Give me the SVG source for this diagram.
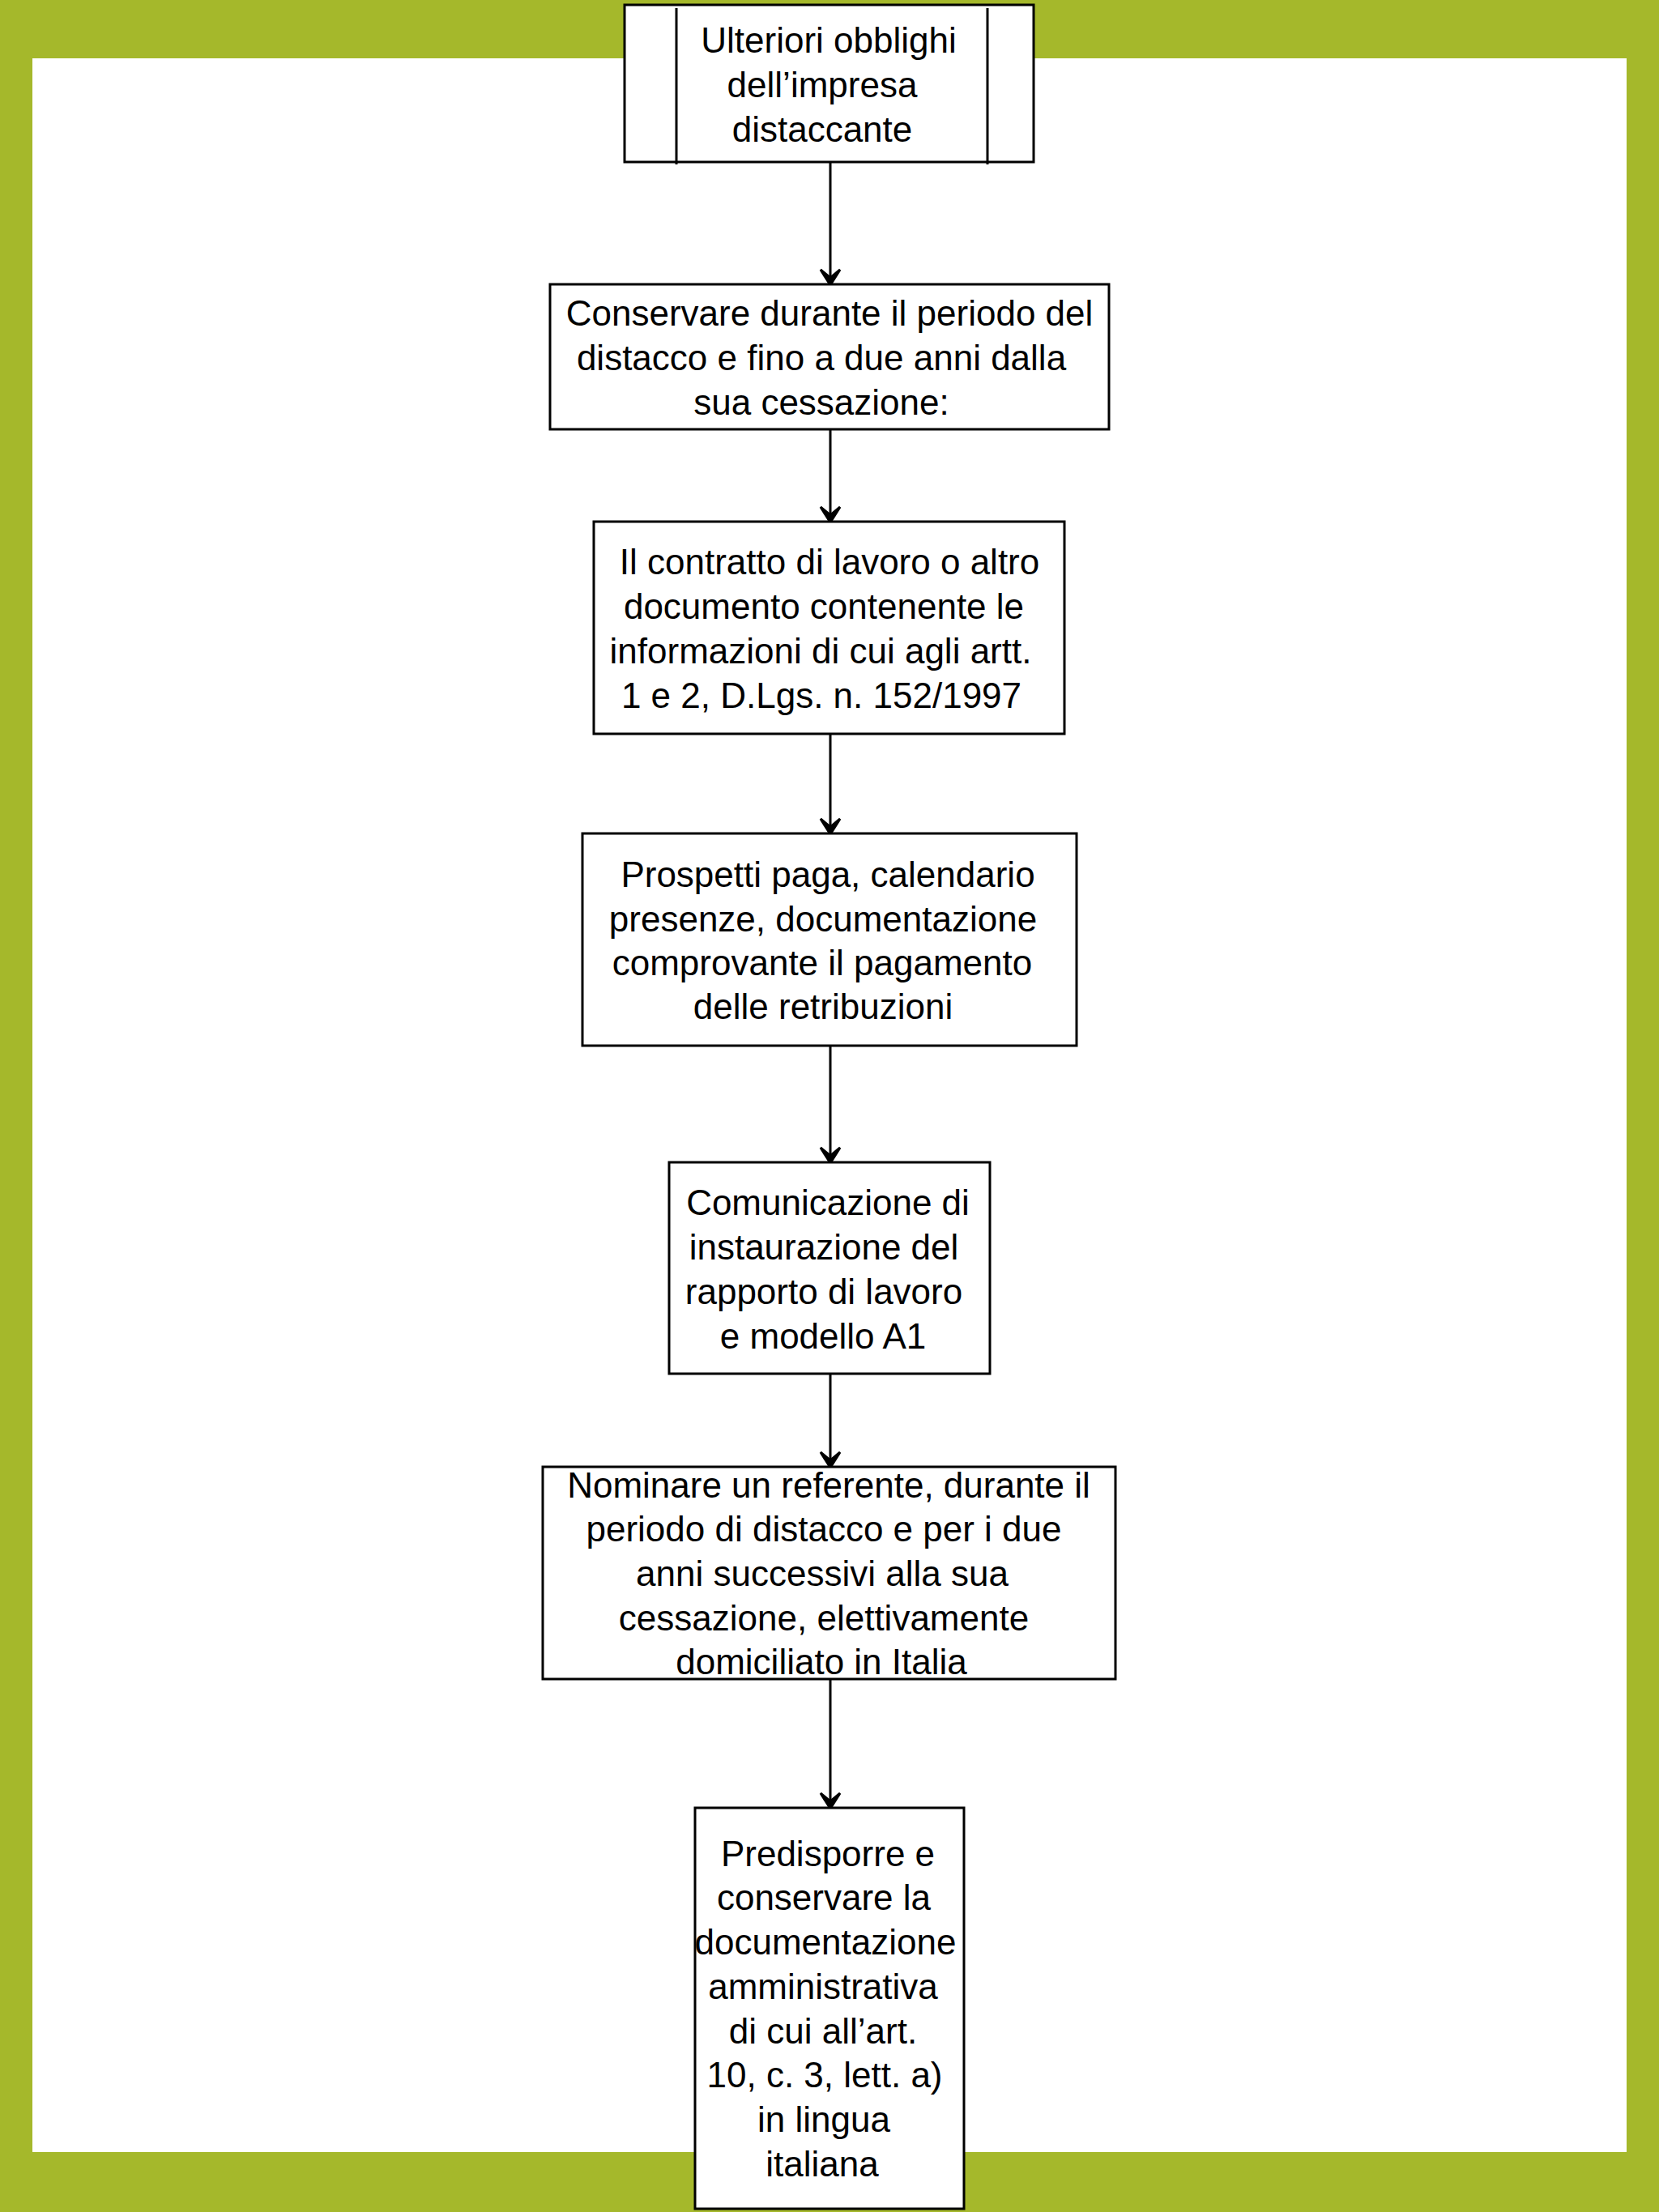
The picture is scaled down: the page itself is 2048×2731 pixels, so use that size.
<svg xmlns="http://www.w3.org/2000/svg" width="2048" height="2731" viewBox="0 0 2048 2731">
<defs>
<style>
.box{fill:#ffffff;stroke:#000000;stroke-width:3}
.t{font-family:"Liberation Sans",Arial,sans-serif;font-size:44px;fill:#000000;text-anchor:middle}
.conn{stroke:#000000;stroke-width:3;fill:none}
</style>
<marker id="arr" markerUnits="userSpaceOnUse" markerWidth="26" markerHeight="32" viewBox="-23 -16 26 32" refX="0" refY="0" orient="auto">
<path d="M0,0 L-19,-12 L-9,0 L-19,12 Z" fill="#000" stroke="#000" stroke-width="3" stroke-linejoin="miter"/>
</marker>
</defs>
<rect x="0" y="0" width="2048" height="2731" fill="#A5B82B"/>
<rect x="40" y="72" width="1968" height="2585" fill="#ffffff"/>

<g id="connectors">
<line class="conn" x1="1025" y1="200" x2="1025" y2="352" marker-end="url(#arr)"/>
<line class="conn" x1="1025" y1="530" x2="1025" y2="645" marker-end="url(#arr)"/>
<line class="conn" x1="1025" y1="906" x2="1025" y2="1030" marker-end="url(#arr)"/>
<line class="conn" x1="1025" y1="1291" x2="1025" y2="1436" marker-end="url(#arr)"/>
<line class="conn" x1="1025" y1="1696" x2="1025" y2="1812" marker-end="url(#arr)"/>
<line class="conn" x1="1025" y1="2073" x2="1025" y2="2233" marker-end="url(#arr)"/>
</g>

<g id="n1">
<rect class="box" x="771" y="6" width="505" height="194"/>
<line x1="835" y1="10" x2="835" y2="203" stroke="#000" stroke-width="3"/>
<line x1="1219" y1="10" x2="1219" y2="203" stroke="#000" stroke-width="3"/>
<text class="t"><tspan x="1023" y="65">Ulteriori obblighi</tspan><tspan x="1015" y="120">dell’impresa</tspan><tspan x="1015" y="175">distaccante</tspan></text>
</g>

<g id="n2">
<rect class="box" x="679" y="351" width="690" height="179"/>
<text class="t"><tspan x="1024" y="402">Conservare durante il periodo del</tspan><tspan x="1014" y="457">distacco e fino a due anni dalla</tspan><tspan x="1014" y="512">sua cessazione:</tspan></text>
</g>

<g id="n3">
<rect class="box" x="733" y="644" width="581" height="262"/>
<text class="t"><tspan x="1024" y="709">Il contratto di lavoro o altro</tspan><tspan x="1017" y="764">documento contenente le</tspan><tspan x="1013" y="819">informazioni di cui agli artt.</tspan><tspan x="1014" y="874">1 e 2, D.Lgs. n. 152/1997</tspan></text>
</g>

<g id="n4">
<rect class="box" x="719" y="1029" width="610" height="262"/>
<text class="t"><tspan x="1022" y="1095">Prospetti paga, calendario</tspan><tspan x="1016" y="1150">presenze, documentazione</tspan><tspan x="1015" y="1204">comprovante il pagamento</tspan><tspan x="1016" y="1258">delle retribuzioni</tspan></text>
</g>

<g id="n5">
<rect class="box" x="826" y="1435" width="396" height="261"/>
<text class="t"><tspan x="1022" y="1500">Comunicazione di</tspan><tspan x="1017" y="1555">instaurazione del</tspan><tspan x="1017" y="1610">rapporto di lavoro</tspan><tspan x="1016" y="1665">e modello A1</tspan></text>
</g>

<g id="n6">
<rect class="box" x="670" y="1811" width="707" height="262"/>
<text class="t"><tspan x="1023" y="1849">Nominare un referente, durante il</tspan><tspan x="1017" y="1903">periodo di distacco e per i due</tspan><tspan x="1015" y="1958">anni successivi alla sua</tspan><tspan x="1017" y="2013">cessazione, elettivamente</tspan><tspan x="1014" y="2067">domiciliato in Italia</tspan></text>
</g>

<g id="n7">
<rect class="box" x="858" y="2232" width="332" height="495"/>
<text class="t"><tspan x="1022" y="2304">Predisporre e</tspan><tspan x="1017" y="2358">conservare la</tspan><tspan x="1019" y="2413">documentazione</tspan><tspan x="1016" y="2468">amministrativa</tspan><tspan x="1016" y="2523">di cui all’art.</tspan><tspan x="1018" y="2577">10, c. 3, lett. a)</tspan><tspan x="1017" y="2632">in lingua</tspan><tspan x="1015" y="2687">italiana</tspan></text>
</g>
</svg>
